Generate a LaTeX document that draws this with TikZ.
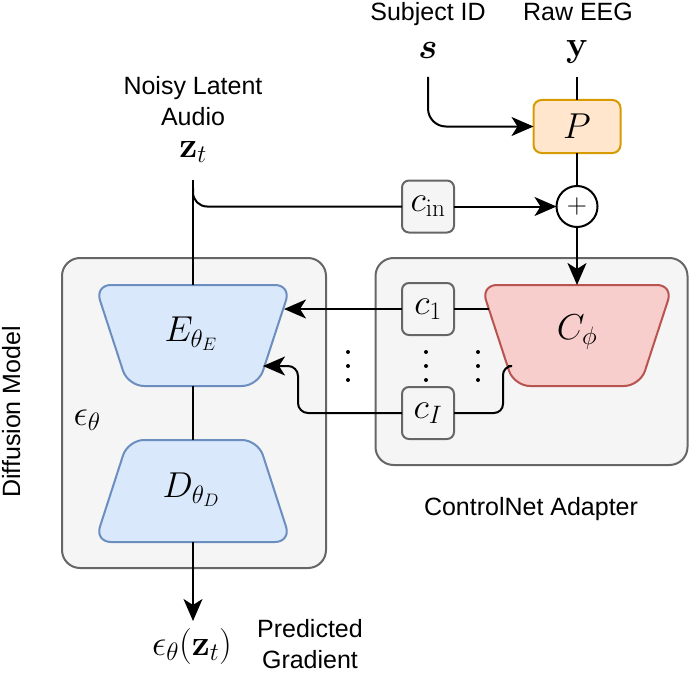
\RequirePackage{fix-cm}
\documentclass[tikz,border=0pt]{standalone}
\usepackage{amsmath}
\usepackage{amssymb}
\usepackage[no-math]{fontspec}
\setmainfont{Liberation Sans}
\usetikzlibrary{arrows.meta,calc}
\definecolor{grpfill}{HTML}{F5F5F5}
\definecolor{grpline}{HTML}{666666}
\definecolor{blufill}{HTML}{DAE8FC}
\definecolor{bluline}{HTML}{6C8EBF}
\definecolor{orafill}{HTML}{FFE6CC}
\definecolor{oraline}{HTML}{D79B00}
\definecolor{redfill}{HTML}{F8CECC}
\definecolor{redline}{HTML}{B85450}
\begin{document}
\begin{tikzpicture}[x=1pt,y=-1pt,
  every node/.style={inner sep=0pt,outer sep=0pt},
  txt/.style={font=\fontsize{25}{30}\selectfont,align=center},
  mth/.style={font=\fontsize{36}{40}\selectfont},
  wire/.style={line width=2pt,draw=black},
  arr/.style={wire,-{Stealth[length=22pt,width=19pt,inset=6pt]}},
  grp/.style={draw=grpline,fill=grpfill,line width=2pt,rounded corners=18pt},
  cbox/.style={draw=grpline,fill=grpfill,line width=2pt,rounded corners=7pt,minimum width=52pt,minimum height=52pt,mth},
  blutrap/.style={draw=bluline,fill=blufill,line width=2pt,rounded corners=16pt},
  redtrap/.style={draw=redline,fill=redfill,line width=2pt,rounded corners=16pt},
  pbox/.style={draw=oraline,fill=orafill,line width=2pt,rounded corners=8pt,minimum width=87pt,minimum height=53pt,mth},
  sumnode/.style={circle,draw=black,fill=white,line width=2pt,minimum size=41pt,font=\fontsize{28}{30}\selectfont},
  dotmark/.style={fill=black,draw=none}
]
\useasboundingbox (0,0) rectangle (690,674);

% groups
\node[grp,minimum width=264pt,minimum height=310pt] (dm) at (194,413) {};
\node[grp,minimum width=312pt,minimum height=207pt] (cn) at (531.5,361.5) {};

% trapezoids
\draw[blutrap] (95,285) -- (291,285) -- (258,386) -- (128,386) -- cycle;
\draw[blutrap] (128,440) -- (258,440) -- (291,542) -- (95,542) -- cycle;
\draw[redtrap] (481,285) -- (673,285) -- (640,386) -- (514,386) -- cycle;
\node[mth] (E) at (191,334) {$E_{\theta_E}$};
\node[mth] (D) at (191,490) {$D_{\theta_D}$};
\node[mth] (C) at (577,332) {$C_\phi$};

\coordinate (Etop) at (193,285);
\coordinate (Ebot) at (193,386);
\coordinate (Dtop) at (193,440);
\coordinate (Dbot) at (193,542);
\coordinate (Ctop) at (577,285);
\coordinate (E1) at (284,309);
\coordinate (E2) at (263,366);
\coordinate (C1) at (489,309);
\coordinate (C2) at (508,366);

% labels
\node[txt,anchor=base] (subj) at (428,21) {Subject ID};
\node[txt,anchor=base] (raw) at (578,21) {Raw EEG};
\node[mth,anchor=base] (s) at (428,59) {$\boldsymbol{s}$};
\node[mth,anchor=base] (y) at (577,57) {$\mathbf{y}$};
\node[txt,anchor=base] (noisy) at (193,95) {Noisy Latent};
\node[txt,anchor=base] (audio) at (193,125) {Audio};
\node[mth,anchor=base] (z) at (193,157) {$\mathbf{z}_t$};
\node[txt,anchor=base] (ctrl) at (531,515) {ControlNet Adapter};
\node[txt,anchor=base,rotate=90] (diff) at (20,412) {Diffusion Model};
\node[mth,anchor=base] (epsl) at (87,425) {$\epsilon_\theta$};
\node[mth,anchor=base] (out) at (192,655) {$\epsilon_\theta(\mathbf{z}_t)$};
\node[txt,anchor=base] (pred) at (310,637) {Predicted};
\node[txt,anchor=base] (grad) at (310,668) {Gradient};

% boxes
\node[pbox] (P) at (577,126.5) {$P$};
\node[sumnode] (plus) at (577,206.5) {$+$};
\node[cbox] (cin) at (428,206.5) {$c_{\mathrm{in}}$};
\node[cbox] (c1) at (428,309) {$c_1$};
\node[cbox] (cI) at (428,413) {$c_I$};

% dots
\foreach \xx in {348,426,478}
  \foreach \yy in {352,366,380}
    \fill[dotmark] (\xx,\yy) circle (2pt);

% connectors
\coordinate (zs) at (193,180);
\coordinate (ss) at (428,77);
\coordinate (ys) at (577,77);
\coordinate (outn) at (193,621);
\draw[wire] (zs) -- (Etop);
\draw[wire,rounded corners=14pt] (193,188) |- (cin.west);
\draw[arr] (cin.east) -- (plus.west);
\draw[wire] (ys) -- (P.north);
\draw[arr,rounded corners=18pt] (ss) |- (P.west);
\draw[wire] (P.south) -- (plus.north);
\draw[arr] (plus.south) -- (Ctop);
\draw[wire] (C1) -- (c1.east);
\draw[arr] (c1.west) -- (E1);
\draw[wire,rounded corners=9pt] (cI.east) -- (503,413) -- (503,366) -- (C2);
\draw[arr,rounded corners=10pt] (cI.west) -- (298,413) -- (298,366) -- (E2);
\draw[wire] (Ebot) -- (Dtop);
\draw[arr] (Dbot) -- (outn);
\end{tikzpicture}
\end{document}
